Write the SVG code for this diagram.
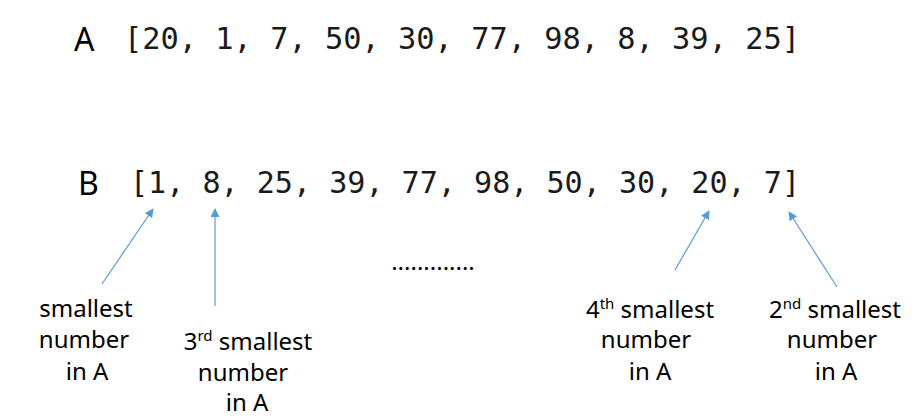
<svg xmlns="http://www.w3.org/2000/svg" width="915" height="417" viewBox="0 0 915 417">
<defs>
<style>
.mono{font-family:"DejaVu Sans Mono","Liberation Mono",monospace;font-size:30px;fill:#1a1a1a}
.big{font-family:"Noto Sans","Open Sans",sans-serif;font-size:32px;fill:#000}
.lbl{font-family:"Noto Sans","Open Sans",sans-serif;font-size:24px;fill:#000;text-anchor:middle}
.sup{font-size:15px}
.arr{stroke:#5B9BD5;stroke-width:1.2;fill:none;marker-end:url(#ah)}
</style>
<marker id="ah" viewBox="0 0 10 10" refX="9" refY="5" markerWidth="9" markerHeight="9" markerUnits="userSpaceOnUse" orient="auto">
<path d="M0,0 L10,5 L0,10 z" fill="#5B9BD5"/>
</marker>
</defs>
<rect width="915" height="417" fill="#fff"/>
<g id="rowA">
<text class="big" x="74" y="51">A</text>
<text class="mono" x="124" y="49" textLength="676" lengthAdjust="spacingAndGlyphs">[20, 1, 7, 50, 30, 77, 98, 8, 39, 25]</text>
</g>
<g id="rowB">
<text class="big" x="78" y="195">B</text>
<text class="mono" x="130" y="193" textLength="670" lengthAdjust="spacingAndGlyphs">[1, 8, 25, 39, 77, 98, 50, 30, 20, 7]</text>
</g>
<g id="dots">
<text class="lbl" x="433" y="270">.............</text>
</g>
<g id="label1">
<text class="lbl" x="86" y="317">smallest</text>
<text class="lbl" x="84" y="348">number</text>
<text class="lbl" x="87" y="380">in A</text>
</g>
<g id="label3">
<text class="lbl" x="248" y="350">3<tspan class="sup" dy="-9">rd</tspan><tspan dy="9"> smallest</tspan></text>
<text class="lbl" x="243" y="381">number</text>
<text class="lbl" x="247" y="411">in A</text>
</g>
<g id="label4">
<text class="lbl" x="650" y="318">4<tspan class="sup" dy="-9">th</tspan><tspan dy="9"> smallest</tspan></text>
<text class="lbl" x="646" y="348">number</text>
<text class="lbl" x="650" y="380">in A</text>
</g>
<g id="label2">
<text class="lbl" x="835" y="318">2<tspan class="sup" dy="-9">nd</tspan><tspan dy="9"> smallest</tspan></text>
<text class="lbl" x="832" y="348">number</text>
<text class="lbl" x="836" y="380">in A</text>
</g>
<g id="connectors">
<line class="arr" x1="102" y1="284" x2="153" y2="209"/>
<line class="arr" x1="215" y1="306" x2="215" y2="209"/>
<line class="arr" x1="675" y1="270" x2="709" y2="211"/>
<line class="arr" x1="837" y1="287" x2="789" y2="212"/>
</g>
</svg>
